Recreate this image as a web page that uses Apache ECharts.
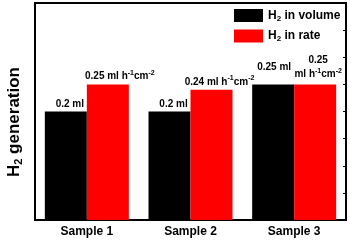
<!DOCTYPE html>
<html><head><meta charset="utf-8">
<script src="https://cdn.jsdelivr.net/npm/echarts@6/dist/echarts.min.js"></script>
<style>html,body{margin:0;padding:0;background:#fff}#c{width:350px;height:243px}</style>
</head><body><div id="c"></div>
<script>
const categories = ['Sample 1', 'Sample 2', 'Sample 3'];
const volumeValues = [0.2, 0.2, 0.25];
const rateValues = [0.25, 0.24, 0.25];
const volumeLabels = ['0.2 ml', '0.2 ml', '0.25 ml'];
const rateLabels = ['0.25 ml h{sup|-1}cm{sup|-2}', '0.24 ml h{sup|-1}cm{sup|-2}', '0.25\nml h{sup|-1}cm{sup|-2}'];
const seriesNames = ['H2 in volume', 'H2 in rate'];
const legendTexts = ['{a|H}{s|2}{a| in volume}', '{a|H}{s|2}{a| in rate}'];
const yTitle = '{a|H}{s|2}{a| generation}';

const volumeOffsets = [[4, 0], [4, 0], [1, -10]];
const rateOffsets = [[12, 0], [8, 0], [3, -2]];
const F = 'Liberation Sans, Arial, sans-serif';
const labelRich = {
  sup: { fontSize: 7, fontWeight: 'bold', fontFamily: F, color: '#000', verticalAlign: 'top', lineHeight: 14 }
};
const chart = echarts.init(document.getElementById('c'));
chart.setOption({
  animation: false,
  grid: { left: 35, right: 4, top: 3, bottom: 23, show: true, borderColor: '#000', borderWidth: 2 },
  graphic: [{
    type: 'text', x: 14, y: 122, rotation: Math.PI / 2,
    style: {
      text: yTitle, align: 'center', verticalAlign: 'middle',
      rich: {
        a: { fontSize: 17, fontWeight: 'bold', fontFamily: F, fill: '#000', lineHeight: 20 },
        s: { fontSize: 11, fontWeight: 'bold', fontFamily: F, fill: '#000', verticalAlign: 'bottom', lineHeight: 13 }
      }
    }
  }],
  legend: {
    orient: 'vertical', left: 229, top: 4, itemWidth: 29, itemHeight: 13, itemGap: 7,
    icon: 'rect',
    data: seriesNames,
    formatter: n => legendTexts[seriesNames.indexOf(n)],
    textStyle: {
      rich: {
        a: { fontSize: 12, fontWeight: 'bold', fontFamily: F, color: '#000', lineHeight: 14 },
        s: { fontSize: 8, fontWeight: 'bold', fontFamily: F, color: '#000', verticalAlign: 'bottom', lineHeight: 10 }
      }
    }
  },
  xAxis: {
    type: 'category', data: categories,
    axisLine: { lineStyle: { color: '#000', width: 2 } },
    axisTick: { inside: true, length: 2, lineStyle: { color: '#000' } },
    axisLabel: { fontSize: 12, fontWeight: 'bold', fontFamily: F, color: '#000', margin: 6 }
  },
  yAxis: [{
    type: 'value', min: 0, max: 0.4, interval: 0.05,
    axisLine: { show: true, lineStyle: { color: '#000', width: 2 } },
    axisTick: { show: false }, axisLabel: { show: false }, splitLine: { show: false }
  }, {
    type: 'value', min: 0, max: 0.4, interval: 0.05, position: 'right',
    axisLine: { show: true, lineStyle: { color: '#000', width: 2 } },
    axisTick: { show: true, inside: true, length: 3, lineStyle: { color: '#000' } },
    axisLabel: { show: false }, splitLine: { show: false }
  }],
  series: [{
    name: seriesNames[0], type: 'bar', yAxisIndex: 0, barWidth: 42, barGap: '0%',
    itemStyle: { color: '#000' },
    data: volumeValues.map((v, i) => ({ value: v, label: { formatter: volumeLabels[i], offset: volumeOffsets[i] } })),
    label: { show: true, position: 'top', distance: 2, fontSize: 10, fontWeight: 'bold', fontFamily: F, color: '#000' }
  }, {
    name: seriesNames[1], type: 'bar', yAxisIndex: 0, barWidth: 42,
    itemStyle: { color: '#ff0000' },
    data: rateValues.map((v, i) => ({ value: v, label: { formatter: rateLabels[i], offset: rateOffsets[i] } })),
    label: { show: true, position: 'top', distance: 1, fontSize: 10, fontWeight: 'bold', fontFamily: F, color: '#000', lineHeight: 14, rich: labelRich }
  }]
});
</script></body></html>
